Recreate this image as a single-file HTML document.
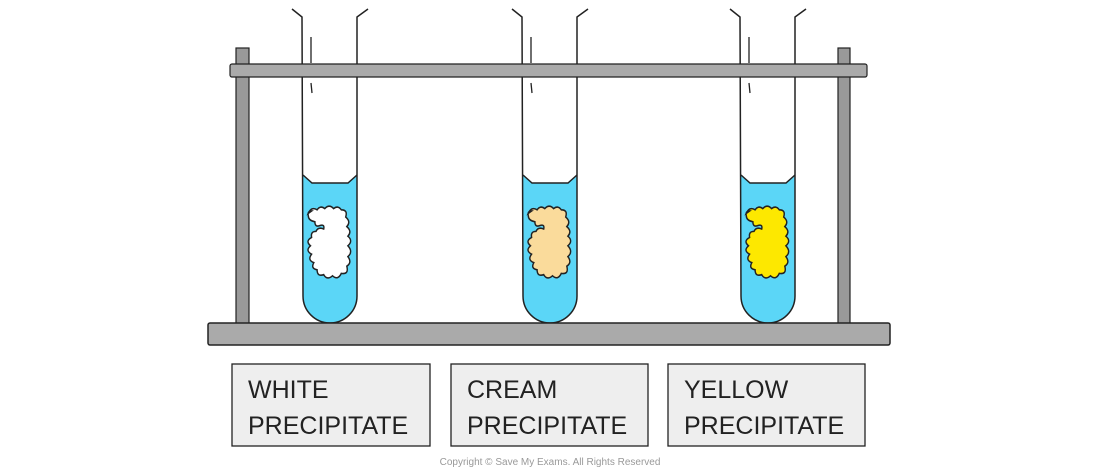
<!DOCTYPE html>
<html><head><meta charset="utf-8"><style>
html,body{margin:0;padding:0;background:#fff;width:1100px;height:473px;overflow:hidden}
svg{display:block}
text{font-family:"Liberation Sans",sans-serif}
</style></head><body>
<svg width="1100" height="473" viewBox="0 0 1100 473" xmlns="http://www.w3.org/2000/svg">
<defs>
<g id="tube">
  <path d="M0 175 L9 183 L45 183 L54 175 L54 296 A27 27 0 0 1 0 296 Z" fill="#5bd6f7"/>
  <path d="M-11 9 L-1 17 L0 296 A27 27 0 0 0 54 296 L54 17 L65 9" fill="none" stroke="#222" stroke-width="1.5"/>
  <path d="M0 175 L9 183 L45 183 L54 175" fill="none" stroke="#222" stroke-width="1.5"/>
  <path d="M8 37 L8 63 M8 83 L9 93" stroke="#222" stroke-width="1.3"/>
</g>
<g id="blob"><path transform="translate(-9,-41) scale(1.1,1.2)" d="M13 212 q3 -6 8 -3 q3 -4 7 -1 q4 -4 8 0 q4 -3 7 1 q6 0 4 6 q5 4 1 8 q5 4 1 8 q5 4 0 8 q5 5 0 9 q4 5 -1 8 q2 7 -5 6 q-3 6 -8 2 q-5 4 -8 -1 q-6 2 -6 -4 q-6 -1 -3 -6 q-6 -2 -2 -7 q-6 -3 -1 -7 q-5 -4 1 -7 q-1 -5 4 -5 q2 -4 7 -2 q1 -4 -3 -3 q-5 2 -5 -3 q-6 -1 -6 -5 q-1 -4 3 -4 z" stroke="#222" stroke-width="1.3"/></g>
</defs>
<rect x="236" y="48" width="13" height="278" fill="#999" stroke="#222" stroke-width="1.2"/>
<rect x="838" y="48" width="12" height="278" fill="#999" stroke="#222" stroke-width="1.2"/>
<use href="#tube" x="303" y="0"/>
<use href="#tube" x="523" y="0"/>
<use href="#tube" x="741" y="0"/>
<rect x="230" y="64" width="637" height="13" rx="2" fill="#aaa" stroke="#222" stroke-width="1.2"/>
<rect x="208" y="323" width="682" height="22" rx="2" fill="#aaa" stroke="#222" stroke-width="1.5"/>
<use href="#blob" x="303" y="0" fill="#fff"/>
<use href="#blob" x="523" y="0" fill="#fadb9b"/>
<use href="#blob" x="741" y="0" fill="#fde800"/>
<g fill="#eeeeee" stroke="#222" stroke-width="1.3">
<rect x="232" y="364" width="198" height="82"/>
<rect x="451" y="364" width="197" height="82"/>
<rect x="668" y="364" width="197" height="82"/>
</g>
<g font-size="25" fill="#222">
<text x="248" y="398">WHITE</text><text x="248" y="434">PRECIPITATE</text>
<text x="467" y="398">CREAM</text><text x="467" y="434">PRECIPITATE</text>
<text x="684" y="398">YELLOW</text><text x="684" y="434">PRECIPITATE</text>
</g>
<text x="550" y="465" font-size="10" fill="#999" text-anchor="middle">Copyright © Save My Exams. All Rights Reserved</text>
</svg>
</body></html>
